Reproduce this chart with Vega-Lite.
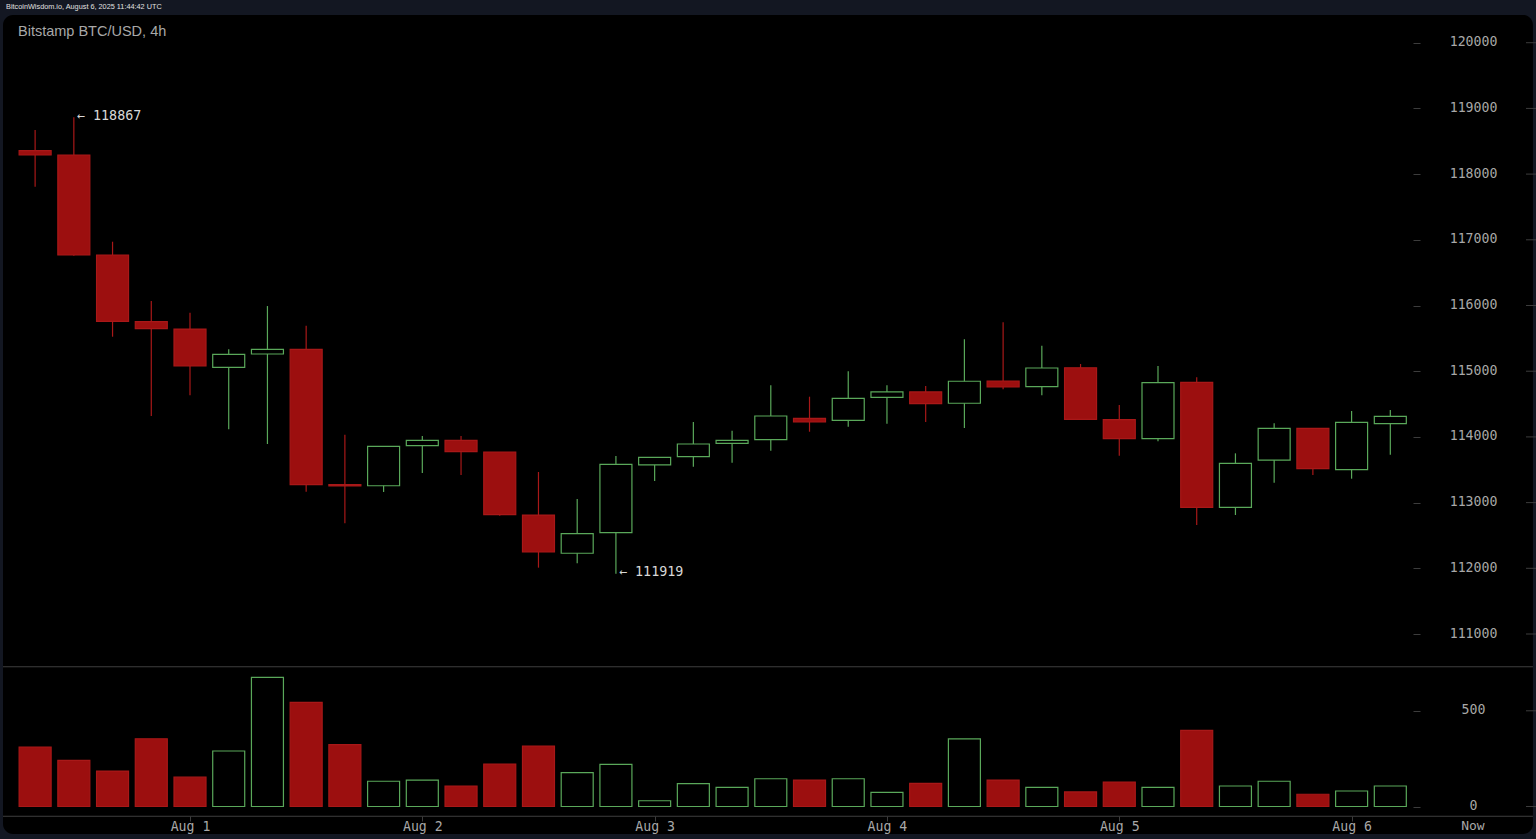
{
  "$schema": "https://vega.github.io/schema/vega-lite/v6.json",
  "width": 1536,
  "height": 839,
  "autosize": {"type": "none"},
  "padding": 0,
  "background": "#131722",
  "datasets": {
    "candles": [
      {"t": "2025-07-31T08:00:00Z", "open": 118356, "high": 118671, "low": 117808, "close": 118291, "volume": 311, "dir": "down"},
      {"t": "2025-07-31T12:00:00Z", "open": 118291, "high": 118867, "low": 116758, "close": 116769, "volume": 241, "dir": "down"},
      {"t": "2025-07-31T16:00:00Z", "open": 116769, "high": 116971, "low": 115525, "close": 115760, "volume": 185, "dir": "down"},
      {"t": "2025-07-31T20:00:00Z", "open": 115754, "high": 116069, "low": 114318, "close": 115647, "volume": 354, "dir": "down"},
      {"t": "2025-08-01T00:00:00Z", "open": 115642, "high": 115891, "low": 114633, "close": 115079, "volume": 153, "dir": "down"},
      {"t": "2025-08-01T04:00:00Z", "open": 115059, "high": 115333, "low": 114115, "close": 115257, "volume": 290, "dir": "up"},
      {"t": "2025-08-01T08:00:00Z", "open": 115262, "high": 115992, "low": 113892, "close": 115333, "volume": 675, "dir": "up"},
      {"t": "2025-08-01T12:00:00Z", "open": 115333, "high": 115693, "low": 113166, "close": 113273, "volume": 544, "dir": "down"},
      {"t": "2025-08-01T16:00:00Z", "open": 113275, "high": 114034, "low": 112685, "close": 113255, "volume": 323, "dir": "down"},
      {"t": "2025-08-01T20:00:00Z", "open": 113257, "high": 113857, "low": 113162, "close": 113857, "volume": 132, "dir": "up"},
      {"t": "2025-08-02T00:00:00Z", "open": 113866, "high": 114014, "low": 113451, "close": 113948, "volume": 138, "dir": "up"},
      {"t": "2025-08-02T04:00:00Z", "open": 113948, "high": 114014, "low": 113420, "close": 113775, "volume": 107, "dir": "down"},
      {"t": "2025-08-02T08:00:00Z", "open": 113770, "high": 113770, "low": 112800, "close": 112816, "volume": 222, "dir": "down"},
      {"t": "2025-08-02T12:00:00Z", "open": 112811, "high": 113466, "low": 112010, "close": 112248, "volume": 316, "dir": "down"},
      {"t": "2025-08-02T16:00:00Z", "open": 112229, "high": 113055, "low": 112076, "close": 112527, "volume": 177, "dir": "up"},
      {"t": "2025-08-02T20:00:00Z", "open": 112542, "high": 113710, "low": 111919, "close": 113583, "volume": 220, "dir": "up"},
      {"t": "2025-08-03T00:00:00Z", "open": 113573, "high": 113690, "low": 113329, "close": 113690, "volume": 30, "dir": "up"},
      {"t": "2025-08-03T04:00:00Z", "open": 113699, "high": 114227, "low": 113547, "close": 113892, "volume": 119, "dir": "up"},
      {"t": "2025-08-03T08:00:00Z", "open": 113903, "high": 114095, "low": 113608, "close": 113948, "volume": 100, "dir": "up"},
      {"t": "2025-08-03T12:00:00Z", "open": 113958, "high": 114786, "low": 113790, "close": 114318, "volume": 145, "dir": "up"},
      {"t": "2025-08-03T16:00:00Z", "open": 114283, "high": 114612, "low": 114079, "close": 114227, "volume": 138, "dir": "down"},
      {"t": "2025-08-03T20:00:00Z", "open": 114253, "high": 114999, "low": 114155, "close": 114588, "volume": 145, "dir": "up"},
      {"t": "2025-08-04T00:00:00Z", "open": 114603, "high": 114786, "low": 114201, "close": 114684, "volume": 74, "dir": "up"},
      {"t": "2025-08-04T04:00:00Z", "open": 114684, "high": 114775, "low": 114227, "close": 114506, "volume": 121, "dir": "down"},
      {"t": "2025-08-04T08:00:00Z", "open": 114512, "high": 115486, "low": 114136, "close": 114847, "volume": 353, "dir": "up"},
      {"t": "2025-08-04T12:00:00Z", "open": 114851, "high": 115745, "low": 114725, "close": 114760, "volume": 138, "dir": "down"},
      {"t": "2025-08-04T16:00:00Z", "open": 114764, "high": 115388, "low": 114633, "close": 115049, "volume": 100, "dir": "up"},
      {"t": "2025-08-04T20:00:00Z", "open": 115053, "high": 115110, "low": 114268, "close": 114268, "volume": 76, "dir": "down"},
      {"t": "2025-08-05T00:00:00Z", "open": 114262, "high": 114486, "low": 113714, "close": 113973, "volume": 128, "dir": "down"},
      {"t": "2025-08-05T04:00:00Z", "open": 113973, "high": 115079, "low": 113933, "close": 114825, "volume": 100, "dir": "up"},
      {"t": "2025-08-05T08:00:00Z", "open": 114830, "high": 114907, "low": 112659, "close": 112928, "volume": 398, "dir": "down"},
      {"t": "2025-08-05T12:00:00Z", "open": 112928, "high": 113750, "low": 112811, "close": 113598, "volume": 107, "dir": "up"},
      {"t": "2025-08-05T16:00:00Z", "open": 113648, "high": 114207, "low": 113303, "close": 114131, "volume": 132, "dir": "up"},
      {"t": "2025-08-05T20:00:00Z", "open": 114131, "high": 114131, "low": 113420, "close": 113516, "volume": 64, "dir": "down"},
      {"t": "2025-08-06T00:00:00Z", "open": 113501, "high": 114394, "low": 113364, "close": 114222, "volume": 81, "dir": "up"},
      {"t": "2025-08-06T04:00:00Z", "open": 114201, "high": 114409, "low": 113729, "close": 114313, "volume": 107, "dir": "up"}
    ]
  },
  "data": {"name": "candles"},
  "encoding": {
    "x": {
      "field": "t",
      "type": "temporal",
      "scale": {
        "type": "utc",
        "nice": false,
        "padding": 0,
        "domain": [1753935739200, 1754506980000]
      },
      "axis": {
        "orient": "bottom",
        "offset": -23,
        "zindex": 1,
        "title": null,
        "format": "%b %-d",
        "tickCount": {"interval": "day", "step": 1},
        "tickSize": 5,
        "labelPadding": -1,
        "labelOverlap": false,
        "labelFlush": false
      }
    }
  },
  "layer": [
    {
      "layer": [
        {
          "data": {"values": [{"t": "2025-07-31T04:41:00Z", "t2": "2025-08-06T18:44:00Z", "top": 120422, "bottom": 107956}]},
          "mark": {"type": "rect", "fill": "#000000", "cornerRadius": 10},
          "encoding": {
            "x2": {"field": "t2"},
            "y": {
              "field": "top",
              "type": "quantitative",
              "scale": {"domain": [107880, 120650], "nice": false, "zero": false},
              "axis": {
                "orient": "right",
                "offset": -123,
                "zindex": 1,
                "title": null,
                "format": "d",
                "values": [120000, 119000, 118000, 117000, 116000, 115000, 114000, 113000, 112000, 111000],
                "tickSize": 7,
                "labelAlign": "center",
                "labelPadding": 53,
                "labelOffset": -1
              }
            },
            "y2": {"field": "bottom"}
          }
        },
        {
          "mark": {"type": "rule", "strokeWidth": 1.2},
          "encoding": {
            "y": {"field": "high", "type": "quantitative", "scale": {"domain": [107880, 120650], "nice": false, "zero": false}},
            "y2": {"field": "low"},
            "stroke": {"field": "dir", "type": "nominal", "scale": {"domain": ["down", "up"], "range": ["#a81818", "#5aa85a"]}, "legend": null}
          }
        },
        {
          "mark": {"type": "bar", "size": 32, "strokeWidth": 1.2},
          "encoding": {
            "y": {"field": "open", "type": "quantitative", "stack": null, "scale": {"domain": [107880, 120650], "nice": false, "zero": false}},
            "y2": {"field": "close"},
            "fill": {"field": "dir", "type": "nominal", "scale": {"domain": ["down", "up"], "range": ["#9c0f0f", "#000000"]}, "legend": null},
            "stroke": {"field": "dir", "type": "nominal", "scale": {"domain": ["down", "up"], "range": ["#a81818", "#5aa85a"]}, "legend": null}
          }
        },
        {
          "data": {"values": [
            {"t": "2025-08-06T18:01:00Z", "t2": "2025-08-06T19:03:00Z", "level": 120000},
            {"t": "2025-08-06T18:01:00Z", "t2": "2025-08-06T19:03:00Z", "level": 119000},
            {"t": "2025-08-06T18:01:00Z", "t2": "2025-08-06T19:03:00Z", "level": 118000},
            {"t": "2025-08-06T18:01:00Z", "t2": "2025-08-06T19:03:00Z", "level": 117000},
            {"t": "2025-08-06T18:01:00Z", "t2": "2025-08-06T19:03:00Z", "level": 116000},
            {"t": "2025-08-06T18:01:00Z", "t2": "2025-08-06T19:03:00Z", "level": 115000},
            {"t": "2025-08-06T18:01:00Z", "t2": "2025-08-06T19:03:00Z", "level": 114000},
            {"t": "2025-08-06T18:01:00Z", "t2": "2025-08-06T19:03:00Z", "level": 113000},
            {"t": "2025-08-06T18:01:00Z", "t2": "2025-08-06T19:03:00Z", "level": 112000},
            {"t": "2025-08-06T18:01:00Z", "t2": "2025-08-06T19:03:00Z", "level": 111000}
          ]},
          "mark": {"type": "rule", "stroke": "#3c3c3c"},
          "encoding": {
            "x2": {"field": "t2"},
            "y": {"field": "level", "type": "quantitative", "scale": {"domain": [107880, 120650], "nice": false, "zero": false}}
          }
        },
        {
          "data": {"values": [
            {"t": "2025-07-31T12:00:00Z", "price": 118867, "label": "← 118867"},
            {"t": "2025-08-02T20:00:00Z", "price": 111919, "label": "← 111919"}
          ]},
          "mark": {"type": "text", "align": "left", "baseline": "middle", "dx": 3, "dy": -1.5, "font": "DejaVu Sans Mono", "fontSize": 13.4, "fill": "#d8d8d8"},
          "encoding": {
            "y": {"field": "price", "type": "quantitative", "scale": {"domain": [107880, 120650], "nice": false, "zero": false}},
            "text": {"field": "label"}
          }
        },
        {
          "data": {"values": [{"t": "2025-07-31T06:14:00Z", "price": 120163, "label": "Bitstamp BTC/USD, 4h"}]},
          "mark": {"type": "text", "align": "left", "baseline": "middle", "font": "Liberation Sans", "fontSize": 14.5, "fill": "#a8a8a8"},
          "encoding": {
            "y": {"field": "price", "type": "quantitative", "scale": {"domain": [107880, 120650], "nice": false, "zero": false}},
            "text": {"field": "label"}
          }
        },
        {
          "data": {"values": [{"t": "2025-07-31T05:00:00Z", "price": 120543, "label": "BitcoinWisdom.io, August 6, 2025 11:44:42 UTC"}]},
          "mark": {"type": "text", "align": "left", "baseline": "middle", "font": "Liberation Sans", "fontSize": 7.3, "fill": "#e0e0e0"},
          "encoding": {
            "y": {"field": "price", "type": "quantitative", "scale": {"domain": [107880, 120650], "nice": false, "zero": false}},
            "text": {"field": "label"}
          }
        }
      ]
    },
    {
      "layer": [
        {
          "mark": {"type": "bar", "size": 32, "strokeWidth": 1.2},
          "encoding": {
            "y": {
              "field": "volume",
              "type": "quantitative",
              "stack": null,
              "scale": {"domain": [-169.8, 4213.7], "nice": false, "zero": false},
              "axis": {
                "orient": "right",
                "offset": -123,
                "zindex": 1,
                "title": null,
                "format": "d",
                "values": [500, 0],
                "tickSize": 7,
                "labelAlign": "center",
                "labelPadding": 53,
                "labelOffset": -1
              }
            },
            "y2": {"datum": 0},
            "fill": {"field": "dir", "type": "nominal", "scale": {"domain": ["down", "up"], "range": ["#9c0f0f", "#000000"]}, "legend": null},
            "stroke": {"field": "dir", "type": "nominal", "scale": {"domain": ["down", "up"], "range": ["#a81818", "#5aa85a"]}, "legend": null}
          }
        },
        {
          "data": {"values": [
            {"t": "2025-07-31T04:41:00Z", "t2": "2025-08-06T18:44:00Z", "level": 730},
            {"t": "2025-07-31T04:41:00Z", "t2": "2025-08-06T18:44:00Z", "level": -51}
          ]},
          "mark": {"type": "rule", "stroke": "#3f3f3f"},
          "encoding": {
            "x2": {"field": "t2"},
            "y": {"field": "level", "type": "quantitative", "scale": {"domain": [-169.8, 4213.7], "nice": false, "zero": false}}
          }
        },
        {
          "data": {"values": [
            {"t": "2025-08-06T18:01:00Z", "t2": "2025-08-06T19:03:00Z", "level": 500},
            {"t": "2025-08-06T18:01:00Z", "t2": "2025-08-06T19:03:00Z", "level": 0}
          ]},
          "mark": {"type": "rule", "stroke": "#3c3c3c"},
          "encoding": {
            "x2": {"field": "t2"},
            "y": {"field": "level", "type": "quantitative", "scale": {"domain": [-169.8, 4213.7], "nice": false, "zero": false}}
          }
        },
        {
          "data": {"values": [{"t": "2025-08-06T12:32:00Z", "volume": -102, "label": "Now"}]},
          "mark": {"type": "text", "align": "center", "baseline": "middle", "font": "DejaVu Sans Mono", "fontSize": 13, "fill": "#a8a8a8"},
          "encoding": {
            "y": {"field": "volume", "type": "quantitative", "scale": {"domain": [-169.8, 4213.7], "nice": false, "zero": false}},
            "text": {"field": "label"}
          }
        }
      ]
    }
  ],
  "resolve": {"scale": {"y": "independent"}},
  "config": {
    "view": {"stroke": null},
    "axis": {
      "grid": false,
      "domain": false,
      "tickColor": "#3c3c3c",
      "tickWidth": 1,
      "labelColor": "#a8a8a8",
      "labelFont": "DejaVu Sans Mono",
      "labelFontSize": 13.2
    }
  }
}
